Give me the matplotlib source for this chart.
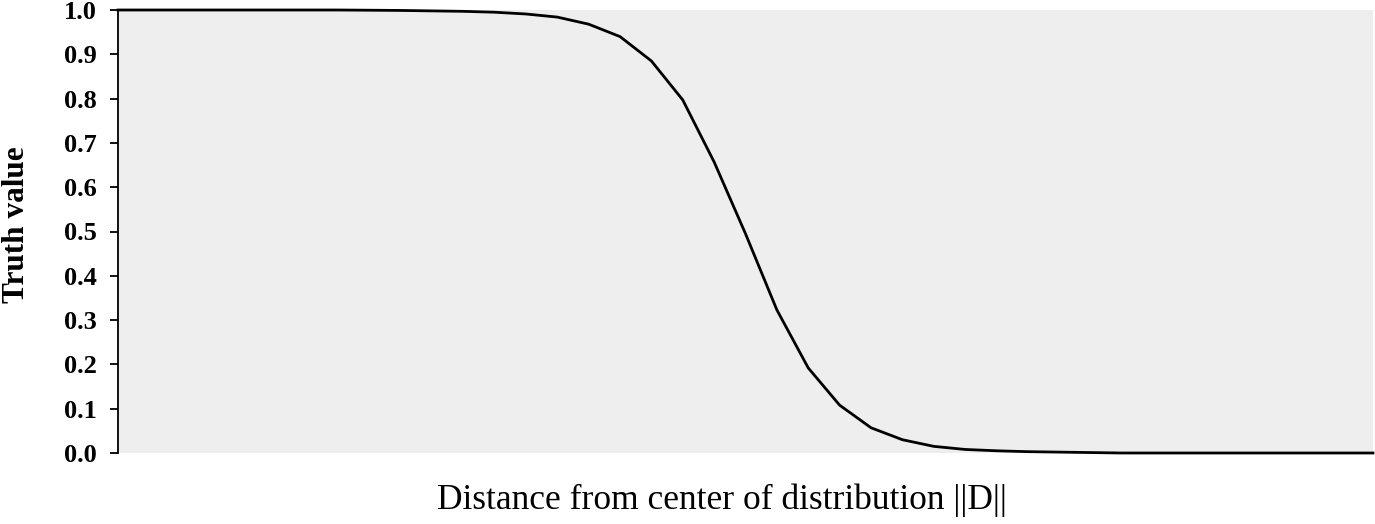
import matplotlib
matplotlib.use("Agg")
from matplotlib import pyplot as plt

# distance steps along the x axis (no tick labels in the original)
distance = list(range(41))
truth = [1.0, 1.0, 1.0, 1.0, 1.0, 1.0, 1.0, 1.0,
         0.9995, 0.999, 0.998, 0.997, 0.995, 0.991, 0.984, 0.968,
         0.940, 0.885, 0.797, 0.657, 0.495, 0.323, 0.192, 0.108,
         0.057, 0.030, 0.015, 0.008, 0.005, 0.003, 0.002, 0.001,
         0.0, 0.0, 0.0, 0.0, 0.0, 0.0, 0.0, 0.0, 0.0]
y_ticks = [i / 10 for i in range(11)]
y_labels = ["%.1f" % v for v in y_ticks]

plt.rcParams["font.family"] = ["Liberation Serif", "DejaVu Serif"]

fig = plt.figure(figsize=(13.75, 5.24), dpi=100)
ax = fig.add_axes([118 / 1375, 71 / 524, 1255 / 1375, 443 / 524])
ax.set_facecolor("#eeeeee")

ax.plot(distance, truth, color="black", linewidth=2.0, clip_on=False)

ax.set_xlim(distance[0], distance[-1])
ax.set_ylim(0, 1)
ax.set_xticks([])
ax.set_yticks(y_ticks)
ax.set_yticklabels(y_labels, fontsize=19, fontweight="bold")
ax.tick_params(axis="y", direction="out", length=6, width=1.3, pad=9)

for side in ["top", "right", "bottom"]:
    ax.spines[side].set_visible(False)
ax.spines["left"].set_linewidth(1.3)

fig.text(722 / 1375, 1 - 500 / 524, "Distance from center of distribution ||D||",
         fontsize=25.5, ha="center", va="center")
fig.text(17 / 1375, 1 - 225 / 524, "Truth value", fontsize=22.5, fontweight="bold",
         rotation=90, ha="center", va="center")

fig.savefig("out.png", dpi=100)
